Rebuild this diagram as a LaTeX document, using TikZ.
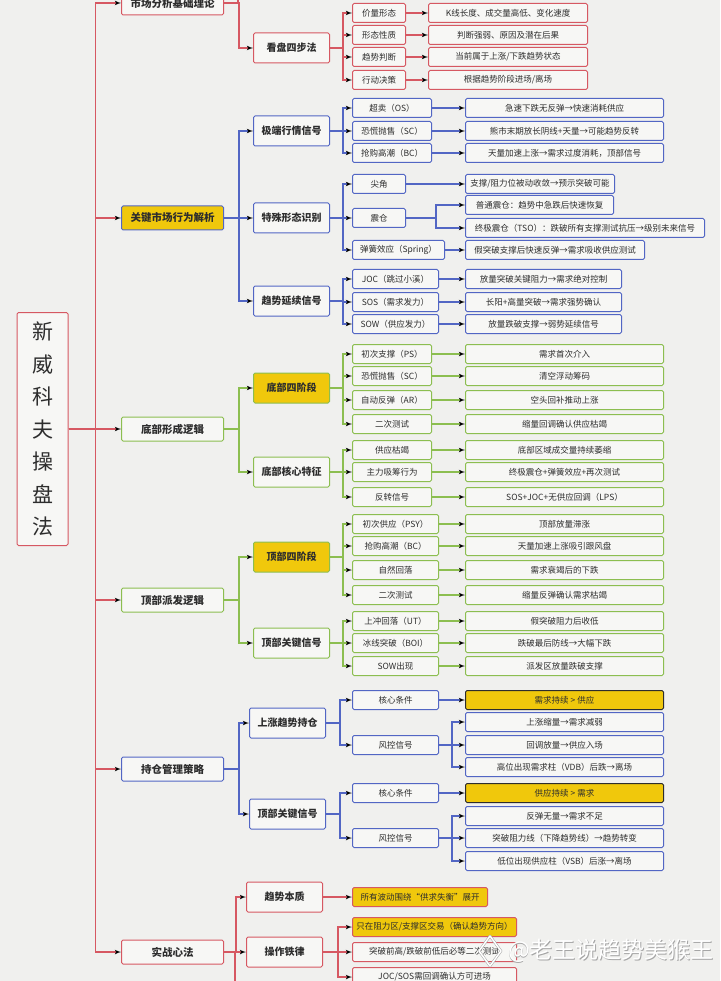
\documentclass[tikz,border=0pt]{standalone}
\usepackage{fontspec}
\setmainfont{Noto Sans CJK SC}
\usepackage{xcolor}
\usepackage{tikz}
\usetikzlibrary{positioning,arrows}

\definecolor{redc}{RGB}{214,88,98}
\definecolor{bluec}{RGB}{82,102,196}
\definecolor{greenc}{RGB}{140,190,80}
\definecolor{yelc}{RGB}{240,200,12}
\definecolor{bgc}{RGB}{240,240,238}
\definecolor{boxc}{RGB}{247,247,245}
\definecolor{inkc}{RGB}{45,45,45}

\begin{document}
\begin{tikzpicture}[x=1pt,y=-1pt,>=latex',
    box/.style={draw,rectangle,rounded corners=1.5pt,fill=boxc,text=inkc,line width=1pt,inner sep=0pt},
    rootbox/.style={box,draw=redc,minimum width=51pt,minimum height=233pt,align=center,
      font=\fontsize{21}{32.5}\selectfont},
    lone/.style={box,anchor=west,minimum width=102pt,minimum height=24pt,font=\bfseries\fontsize{10.5}{12}\selectfont},
    ltwo/.style={box,anchor=west,minimum width=76pt,minimum height=30pt,font=\bfseries\fontsize{10}{12}\selectfont},
    item/.style={box,anchor=west,minimum height=19pt,minimum width=#1,font=\fontsize{8.5}{10}\selectfont},
    hot/.style={fill=yelc},
    fork/.style={to path={(\tikztostart.east) -- ++(#1,0) |- (\tikztotarget.west)}},
    rl/.style={draw=redc,line width=1.1pt,->},
    bl/.style={draw=bluec,line width=1.1pt,->},
    gl/.style={draw=greenc,line width=1.1pt,->}]
  \useasboundingbox (0,0) rectangle (720,981);
  \fill[bgc] (0,0) rectangle (720,981);

  \node[rootbox] (root) at (42.5,429) {新\\威\\科\\夫\\操\\盘\\法};

  \node[lone,draw=redc] (mkt) at (121,3) {市场分析基础理论};
  \node[lone,draw=bluec,hot] (key) at (121,218) {关键市场行为解析};
  \node[lone,draw=greenc] (bot) at (121,429) {底部形成逻辑};
  \node[lone,draw=greenc] (top) at (121,600) {顶部派发逻辑};
  \node[lone,draw=bluec] (pos) at (121,769) {持仓管理策略};
  \node[lone,draw=redc] (prac) at (121,952) {实战心法};
  \coordinate (mktup) at (238,-20);
  \coordinate (pracdn) at (235,1000);

  \draw[rl] (root) edge[fork=27] (mkt) edge[fork=27] (key) edge[fork=27] (bot)
    edge[fork=27] (top) edge[fork=27] (pos) edge[fork=27] (prac);

  % market basics
  \node[ltwo,draw=redc] (kp) at (253,48) {看盘四步法};
  \node[item=53pt,draw=redc] (pv) at (352,13) {价量形态};
  \node[item=53pt,draw=redc] (px) at (352,35) {形态性质};
  \node[item=53pt,draw=redc] (tr) at (352,57) {趋势判断};
  \node[item=53pt,draw=redc] (ac) at (352,80) {行动决策};
  \node[item=159pt,draw=redc] (pvl) at (428,13) {K线长度、成交量高低、变化速度};
  \node[item=159pt,draw=redc] (pxl) at (428,35) {判断强弱、原因及潜在后果};
  \node[item=159pt,draw=redc] (trl) at (428,57) {当前属于上涨/下跌趋势状态};
  \node[item=159pt,draw=redc] (acl) at (428,80) {根据趋势阶段进场/离场};
  \draw[rl,-] (mkt.east) -| (mktup);
  \draw[rl] (mkt) edge[fork=15] (kp);
  \draw[rl] (kp) edge[fork=13] (pv) edge[fork=13] (px) edge[fork=13] (tr) edge[fork=13] (ac);
  \draw[rl] (pv) edge (pvl) (px) edge (pxl) (tr) edge (trl) (ac) edge (acl);

  % key behaviour
  \node[ltwo,draw=bluec] (ext) at (253,131) {极端行情信号};
  \node[ltwo,draw=bluec] (spec) at (253,218) {特殊形态识别};
  \node[ltwo,draw=bluec] (cont) at (253,301) {趋势延续信号};
  \node[item=79pt,draw=bluec] (os) at (352,108) {超卖（OS）};
  \node[item=79pt,draw=bluec] (sc) at (352,131) {恐慌抛售（SC）};
  \node[item=79pt,draw=bluec] (bc) at (352,153) {抢购高潮（BC）};
  \node[item=198pt,draw=bluec] (osl) at (465,108) {急速下跌无反弹→快速消耗供应};
  \node[item=198pt,draw=bluec] (scl) at (465,131) {熊市末期放长阴线+天量→可能趋势反转};
  \node[item=198pt,draw=bluec] (bcl) at (465,153) {天量加速上涨→需求过度消耗，顶部信号};
  \node[item=53pt,draw=bluec] (ang) at (352,184) {尖角};
  \node[item=53pt,draw=bluec] (sh) at (352,218) {震仓};
  \node[item=92pt,draw=bluec] (sp) at (352,250) {弹簧效应（Spring）};
  \node[item=149pt,draw=bluec] (angl) at (465,184) {支撑/阻力位被动收敛→预示突破可能};
  \node[item=148pt,draw=bluec] (shl1) at (465,205) {普通震仓：趋势中急跌后快速恢复};
  \node[item=239pt,draw=bluec] (shl2) at (465,228) {终极震仓（TSO）：跌破所有支撑测试抗压→级别未来信号};
  \node[item=179pt,draw=bluec] (spl) at (465,250) {假突破支撑后快速反弹→需求吸收供应测试};
  \node[item=86pt,draw=bluec] (joc) at (352,279) {JOC（跳过小溪）};
  \node[item=86pt,draw=bluec] (sos) at (352,302) {SOS（需求发力）};
  \node[item=86pt,draw=bluec] (sow) at (352,324) {SOW（供应发力）};
  \node[item=156pt,draw=bluec] (jocl) at (465,279) {放量突破关键阻力→需求绝对控制};
  \node[item=156pt,draw=bluec] (sosl) at (465,302) {长阳+高量突破→需求强势确认};
  \node[item=156pt,draw=bluec] (sowl) at (465,324) {放量跌破支撑→弱势延续信号};
  \draw[bl] (key) edge[fork=15] (ext) edge[fork=15] (spec) edge[fork=15] (cont);
  \draw[bl] (ext) edge[fork=13] (os) edge[fork=13] (sc) edge[fork=13] (bc);
  \draw[bl] (spec) edge[fork=13] (ang) edge[fork=13] (sh) edge[fork=13] (sp);
  \draw[bl] (cont) edge[fork=13] (joc) edge[fork=13] (sos) edge[fork=13] (sow);
  \draw[bl] (os) edge (osl) (sc) edge (scl) (bc) edge (bcl) (ang) edge (angl) (sp) edge (spl);
  \draw[bl] (sh) edge[fork=30] (shl1) edge[fork=30] (shl2);
  \draw[bl] (joc) edge (jocl) (sos) edge (sosl) (sow) edge (sowl);

  % bottom formation
  \node[ltwo,draw=greenc,hot] (bq) at (253,388) {底部四阶段};
  \node[ltwo,draw=greenc] (bk) at (253,472) {底部核心特征};
  \node[item=79pt,draw=greenc] (ps) at (352,354) {初次支撑（PS）};
  \node[item=79pt,draw=greenc] (bsc) at (352,376) {恐慌抛售（SC）};
  \node[item=79pt,draw=greenc] (ar) at (352,400) {自动反弹（AR）};
  \node[item=79pt,draw=greenc] (bst) at (352,424) {二次测试};
  \node[item=79pt,draw=greenc] (se) at (352,450) {供应枯竭};
  \node[item=79pt,draw=greenc] (acc) at (352,472) {主力吸筹行为};
  \node[item=79pt,draw=greenc] (rev) at (352,497) {反转信号};
  \node[item=198pt,draw=greenc] (psl) at (465,354) {需求首次介入};
  \node[item=198pt,draw=greenc] (bscl) at (465,376) {清空浮动筹码};
  \node[item=198pt,draw=greenc] (arl) at (465,400) {空头回补推动上涨};
  \node[item=198pt,draw=greenc] (bstl) at (465,424) {缩量回调确认供应枯竭};
  \node[item=198pt,draw=greenc] (sel) at (465,450) {底部区域成交量持续萎缩};
  \node[item=198pt,draw=greenc] (accl) at (465,472) {终极震仓+弹簧效应+再次测试};
  \node[item=198pt,draw=greenc] (revl) at (465,497) {SOS+JOC+无供应回调（LPS）};
  \draw[gl] (bot) edge[fork=15] (bq) edge[fork=15] (bk);
  \draw[gl] (bq) edge[fork=13] (ps) edge[fork=13] (bsc) edge[fork=13] (ar) edge[fork=13] (bst);
  \draw[gl] (bk) edge[fork=13] (se) edge[fork=13] (acc) edge[fork=13] (rev);
  \draw[gl] (ps) edge (psl) (bsc) edge (bscl) (ar) edge (arl) (bst) edge (bstl)
    (se) edge (sel) (acc) edge (accl) (rev) edge (revl);

  % top distribution
  \node[ltwo,draw=greenc,hot] (tq) at (253,557) {顶部四阶段};
  \node[ltwo,draw=greenc] (tk) at (253,643) {顶部关键信号};
  \node[item=86pt,draw=greenc] (psy) at (352,524) {初次供应（PSY）};
  \node[item=86pt,draw=greenc] (tbc) at (352,546) {抢购高潮（BC）};
  \node[item=86pt,draw=greenc] (nr) at (352,570) {自然回落};
  \node[item=86pt,draw=greenc] (tst) at (352,595) {二次测试};
  \node[item=86pt,draw=greenc] (ut) at (352,621) {上冲回落（UT）};
  \node[item=86pt,draw=greenc] (boi) at (352,643) {冰线突破（BOI）};
  \node[item=86pt,draw=greenc] (tsow) at (352,666) {SOW出现};
  \node[item=198pt,draw=greenc] (psyl) at (465,524) {顶部放量滞涨};
  \node[item=198pt,draw=greenc] (tbcl) at (465,546) {天量加速上涨吸引跟风盘};
  \node[item=198pt,draw=greenc] (nrl) at (465,570) {需求衰竭后的下跌};
  \node[item=198pt,draw=greenc] (tstl) at (465,595) {缩量反弹确认需求枯竭};
  \node[item=198pt,draw=greenc] (utl) at (465,621) {假突破阻力后收低};
  \node[item=198pt,draw=greenc] (boil) at (465,643) {跌破最后防线→大幅下跌};
  \node[item=198pt,draw=greenc] (tsowl) at (465,666) {派发区放量跌破支撑};
  \draw[gl] (top) edge[fork=15] (tq) edge[fork=15] (tk);
  \draw[gl] (tq) edge[fork=13] (psy) edge[fork=13] (tbc) edge[fork=13] (nr) edge[fork=13] (tst);
  \draw[gl] (tk) edge[fork=13] (ut) edge[fork=13] (boi) edge[fork=13] (tsow);
  \draw[gl] (psy) edge (psyl) (tbc) edge (tbcl) (nr) edge (nrl) (tst) edge (tstl)
    (ut) edge (utl) (boi) edge (boil) (tsow) edge (tsowl);

  % position management
  \node[ltwo,draw=bluec] (up) at (249,723) {上涨趋势持仓};
  \node[ltwo,draw=bluec] (dn) at (249,814) {顶部关键信号};
  \node[item=86pt,draw=bluec] (uc) at (352,700) {核心条件};
  \node[item=86pt,draw=bluec] (ur) at (352,745) {风控信号};
  \node[item=86pt,draw=bluec] (dc) at (352,793) {核心条件};
  \node[item=86pt,draw=bluec] (dr) at (352,838) {风控信号};
  \node[item=198pt,draw=inkc,hot] (ucl) at (465,700) {需求持续 > 供应};
  \node[item=198pt,draw=bluec] (url1) at (465,722) {上涨缩量→需求减弱};
  \node[item=198pt,draw=bluec] (url2) at (465,745) {回调放量→供应入场};
  \node[item=198pt,draw=bluec] (url3) at (465,767) {高位出现需求柱（VDB）后跌→离场};
  \node[item=198pt,draw=inkc,hot] (dcl) at (465,793) {供应持续 > 需求};
  \node[item=198pt,draw=bluec] (drl1) at (465,816) {反弹无量→需求不足};
  \node[item=198pt,draw=bluec] (drl2) at (465,838) {突破阻力线（下降趋势线）→趋势转变};
  \node[item=198pt,draw=bluec] (drl3) at (465,861) {低位出现供应柱（VSB）后涨→离场};
  \draw[bl] (pos) edge[fork=15] (up) edge[fork=15] (dn);
  \draw[bl] (up) edge[fork=14] (uc) edge[fork=14] (ur);
  \draw[bl] (dn) edge[fork=14] (dc) edge[fork=14] (dr);
  \draw[bl] (uc) edge (ucl) (dc) edge (dcl);
  \draw[bl] (ur) edge[fork=13] (url1) edge[fork=13] (url2) edge[fork=13] (url3);
  \draw[bl] (dr) edge[fork=13] (drl1) edge[fork=13] (drl2) edge[fork=13] (drl3);

  % practice
  \node[ltwo,draw=redc] (ess) at (246,897) {趋势本质};
  \node[ltwo,draw=redc] (rule) at (246,952) {操作铁律};
  \node[item=135pt,draw=redc,hot] (essl) at (352,897) {所有波动围绕“供求失衡”展开};
  \node[item=164pt,draw=redc,hot] (r1) at (352,927) {只在阻力区/支撑区交易（确认趋势方向）};
  \node[item=164pt,draw=redc] (r2) at (352,952) {突破前高/跌破前低后必等二次测试};
  \node[item=164pt,draw=redc] (r3) at (352,977) {JOC/SOS需回调确认方可进场};
  \draw[rl,-] (prac.east) -| (pracdn);
  \draw[rl] (prac) edge[fork=12] (ess) edge[fork=12] (rule);
  \draw[rl] (ess) edge (essl);
  \draw[rl] (rule) edge[fork=15] (r1) edge[fork=15] (r2) edge[fork=15] (r3);

  \draw[gray!70,line width=2.5pt,line join=round] (490,936) -- (501,951) -- (490,966) -- (479,951) -- cycle;
  \draw[white,line width=1.5pt,line join=round] (490,936) -- (501,951) -- (490,966) -- (479,951) -- cycle;
  \node[text=gray!70,font=\fontsize{23}{23}\selectfont] (wmk) at (611.6,951.6) {@老王说趋势美猴王};
  \node[text=white,font=\fontsize{23}{23}\selectfont] at (611,951) {@老王说趋势美猴王};
\end{tikzpicture}
\end{document}
